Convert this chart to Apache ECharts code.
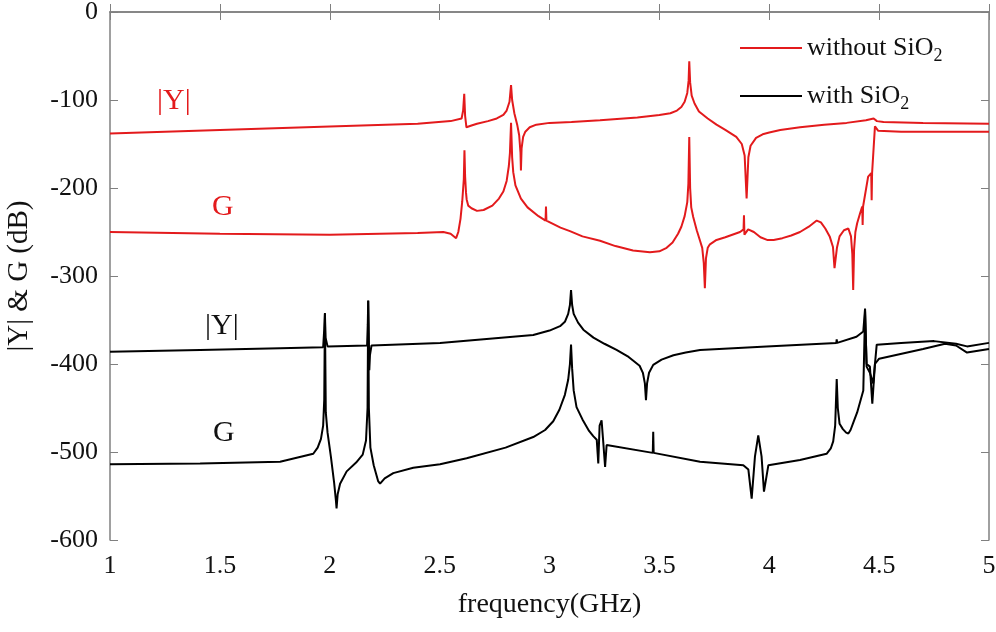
<!DOCTYPE html>
<html>
<head>
<meta charset="utf-8">
<script src="https://cdn.jsdelivr.net/npm/echarts@6/dist/echarts.min.js"></script>
<style>
  html, body { margin: 0; padding: 0; background: #fff; }
  #chart { width: 996px; height: 632px; }
</style>
</head>
<body>
<div id="chart"></div>
<script>
// frequency (GHz), dB
const redY = [
  [1.0, -138], [1.5, -134], [2.0, -130], [2.4, -127], [2.55, -124], [2.60, -121],
  [2.607, -112], [2.612, -93], [2.616, -118], [2.622, -131], [2.63, -131], [2.645, -129],
  [2.67, -127], [2.72, -124], [2.76, -121], [2.79, -117], [2.805, -112], [2.818, -102],
  [2.825, -83], [2.83, -100], [2.84, -115], [2.853, -128], [2.862, -140], [2.868, -160],
  [2.87, -180], [2.873, -155], [2.88, -142], [2.89, -136], [2.91, -131], [2.94, -128],
  [3.0, -126], [3.1, -125], [3.23, -123], [3.40, -120], [3.5, -117], [3.55, -115],
  [3.58, -112], [3.60, -108], [3.615, -102], [3.627, -92], [3.633, -78], [3.636, -56],
  [3.64, -80], [3.647, -95], [3.66, -104], [3.68, -113], [3.72, -121], [3.76, -128],
  [3.80, -134], [3.85, -142], [3.875, -150], [3.888, -163], [3.897, -212], [3.905, -165],
  [3.915, -152], [3.94, -143], [3.97, -139], [4.0, -137], [4.05, -134], [4.14, -131],
  [4.25, -128], [4.352, -126], [4.44, -123], [4.475, -121], [4.484, -119], [4.49, -124],
  [4.52, -125], [4.7, -126], [5.0, -127]
];
const redG = [
  [1.0, -250], [1.5, -252], [2.0, -253], [2.4, -251], [2.517, -250], [2.55, -252],
  [2.575, -257], [2.585, -250], [2.595, -235], [2.603, -215], [2.61, -190], [2.613, -157],
  [2.616, -187], [2.62, -205], [2.623, -213], [2.63, -220], [2.645, -223], [2.67, -226],
  [2.70, -225], [2.74, -220], [2.77, -212], [2.79, -204], [2.805, -192], [2.815, -175],
  [2.82, -160], [2.825, -126], [2.83, -165], [2.835, -182], [2.845, -197], [2.87, -212],
  [2.9, -222], [2.95, -232], [2.982, -237], [2.984, -221], [2.986, -237], [3.05, -245],
  [3.093, -249], [3.15, -255], [3.23, -260], [3.3, -266], [3.38, -271], [3.457, -273],
  [3.5, -272], [3.533, -268], [3.56, -262], [3.585, -252], [3.6, -244], [3.615, -232],
  [3.627, -216], [3.632, -195], [3.636, -142], [3.64, -200], [3.645, -222], [3.654, -233],
  [3.67, -248], [3.685, -260], [3.695, -268], [3.702, -285], [3.707, -314], [3.712, -280],
  [3.72, -268], [3.73, -264], [3.76, -259], [3.8, -256], [3.867, -250], [3.883, -247],
  [3.885, -231], [3.887, -253], [3.904, -247], [3.93, -250], [3.96, -256], [3.99, -259],
  [4.02, -259], [4.06, -257], [4.1, -254], [4.14, -250], [4.18, -244], [4.216, -237],
  [4.235, -239], [4.255, -246], [4.275, -255], [4.29, -267], [4.297, -291], [4.308, -268],
  [4.32, -255], [4.34, -248], [4.36, -246], [4.372, -255], [4.378, -275], [4.382, -316],
  [4.386, -270], [4.392, -250], [4.4, -240], [4.413, -229], [4.423, -221], [4.425, -242],
  [4.427, -221], [4.45, -187], [4.464, -183], [4.466, -214], [4.468, -183], [4.481, -130],
  [4.496, -135], [4.6, -136], [5.0, -136]
];
const blackY = [
  [1.0, -386], [1.41, -384], [1.774, -382], [1.97, -381], [1.975, -360], [1.978, -343],
  [1.981, -370], [1.99, -380], [2.17, -379], [2.173, -355], [2.175, -328], [2.177, -355],
  [2.18, -407], [2.183, -390], [2.19, -379], [2.502, -376], [2.926, -367], [3.0, -362],
  [3.048, -357], [3.07, -352], [3.085, -343], [3.093, -333], [3.098, -316], [3.103, -333],
  [3.11, -343], [3.13, -353], [3.154, -361], [3.2, -370], [3.25, -377], [3.305, -384],
  [3.36, -392], [3.41, -402], [3.425, -410], [3.434, -422], [3.439, -441], [3.444, -422],
  [3.453, -410], [3.472, -401], [3.51, -395], [3.564, -390], [3.62, -387], [3.685, -384],
  [3.988, -380], [4.305, -376], [4.307, -372], [4.309, -376], [4.397, -369], [4.428, -363],
  [4.436, -337], [4.443, -403], [4.458, -410], [4.473, -422], [4.489, -378], [4.6, -376],
  [4.75, -374], [4.85, -377], [4.9, -380], [5.0, -376]
];
const blackG = [
  [1.0, -514], [1.41, -513], [1.774, -511], [1.925, -502], [1.945, -495], [1.96, -485],
  [1.97, -470], [1.975, -440], [1.978, -342], [1.982, -455], [1.99, -478], [2.005, -505],
  [2.02, -535], [2.028, -555], [2.031, -564], [2.036, -548], [2.047, -536], [2.077, -522],
  [2.12, -512], [2.15, -503], [2.165, -487], [2.172, -450], [2.175, -328], [2.178, -450],
  [2.185, -495], [2.2, -515], [2.22, -533], [2.229, -536], [2.25, -530], [2.289, -524],
  [2.38, -518], [2.502, -514], [2.623, -507], [2.8, -495], [2.926, -483], [2.98, -475],
  [3.017, -465], [3.045, -452], [3.07, -435], [3.085, -418], [3.093, -400], [3.098, -378],
  [3.103, -405], [3.11, -430], [3.123, -449], [3.15, -463], [3.18, -476], [3.199, -482],
  [3.215, -486], [3.222, -513], [3.228, -470], [3.237, -464], [3.245, -490], [3.253, -517],
  [3.26, -492], [3.47, -501], [3.472, -477], [3.474, -501], [3.685, -511], [3.882, -515],
  [3.905, -520], [3.92, -553], [3.935, -505], [3.95, -481], [3.965, -505], [3.976, -545],
  [3.996, -515], [4.14, -509], [4.261, -502], [4.28, -496], [4.291, -488], [4.3, -470],
  [4.307, -417], [4.312, -450], [4.32, -468], [4.335, -474], [4.35, -478], [4.36, -479],
  [4.37, -475], [4.385, -465], [4.4, -455], [4.428, -430], [4.436, -340], [4.443, -400],
  [4.458, -403], [4.469, -445], [4.481, -400], [4.5, -394], [4.7, -383], [4.8, -377],
  [4.85, -379], [4.9, -387], [5.0, -383]
];
const seriesNames = ['without SiO2', 'with SiO2'];
const legendText = ['without SiO{s|2}', 'with SiO{s|2}'];

const RED = '#e31a1c';
const FONT = '"Liberation Serif", "DejaVu Serif", serif';
const AXIS = '#808080';

const chart = echarts.init(document.getElementById('chart'));

const lineSeries = (name, data, color) => ({
  name: name,
  type: 'line',
  data: data,
  symbol: 'none',
  lineStyle: { color: color, width: 2 },
  itemStyle: { color: color }
});

const axisCommon = {
  axisLine: { show: true, lineStyle: { color: AXIS, width: 1.5 } },
  axisTick: { show: true, inside: true, length: 8, lineStyle: { color: AXIS } },
  splitLine: { show: false }
};

chart.setOption({
  animation: false,
  textStyle: { fontFamily: FONT },
  grid: { left: 110, right: 7, top: 12, bottom: 92, containLabel: false, outerBoundsMode: 'none' },
  legend: {
    data: seriesNames,
    orient: 'vertical',
    left: 735,
    top: 30,
    itemWidth: 62,
    itemHeight: 2,
    itemGap: 18,
    icon: 'rect',
    formatter: name => legendText[seriesNames.indexOf(name)],
    textStyle: {
      fontFamily: FONT, fontSize: 26, color: '#111',
      rich: { s: { fontFamily: FONT, fontSize: 18, color: '#111', padding: [16, 0, 0, 0] } }
    }
  },
  xAxis: [
    Object.assign({
      type: 'value', min: 1, max: 5, interval: 0.5,
      name: 'frequency(GHz)', nameLocation: 'middle', nameGap: 51,
      nameTextStyle: { fontFamily: FONT, fontSize: 28, color: '#111' },
      axisLabel: { fontFamily: FONT, fontSize: 26, color: '#111', margin: 13 }
    }, axisCommon),
    Object.assign({
      type: 'value', min: 1, max: 5, interval: 0.5, position: 'top',
      axisLabel: { show: false }
    }, axisCommon)
  ],
  yAxis: [
    Object.assign({
      type: 'value', min: -600, max: 0, interval: 100,
      name: '|Y| & G (dB)', nameLocation: 'middle', nameGap: 76,
      nameTextStyle: { fontFamily: FONT, fontSize: 29, color: '#111' },
      axisLabel: { fontFamily: FONT, fontSize: 26, color: '#111', margin: 12 }
    }, axisCommon),
    Object.assign({
      type: 'value', min: -600, max: 0, interval: 100, position: 'right',
      axisLabel: { show: false }
    }, axisCommon)
  ],
  graphic: [
    { type: 'text', left: 157, top: 86, style: { text: '|Y|', fontFamily: FONT, fontSize: 30, fill: RED } },
    { type: 'text', left: 212, top: 192, style: { text: 'G', fontFamily: FONT, fontSize: 30, fill: RED } },
    { type: 'text', left: 205, top: 311, style: { text: '|Y|', fontFamily: FONT, fontSize: 30, fill: '#111' } },
    { type: 'text', left: 213, top: 418, style: { text: 'G', fontFamily: FONT, fontSize: 30, fill: '#111' } }
  ],
  series: [
    lineSeries(seriesNames[0], redY, RED),
    lineSeries(seriesNames[0], redG, RED),
    lineSeries(seriesNames[1], blackY, '#000'),
    lineSeries(seriesNames[1], blackG, '#000')
  ]
});
</script>
</body>
</html>
